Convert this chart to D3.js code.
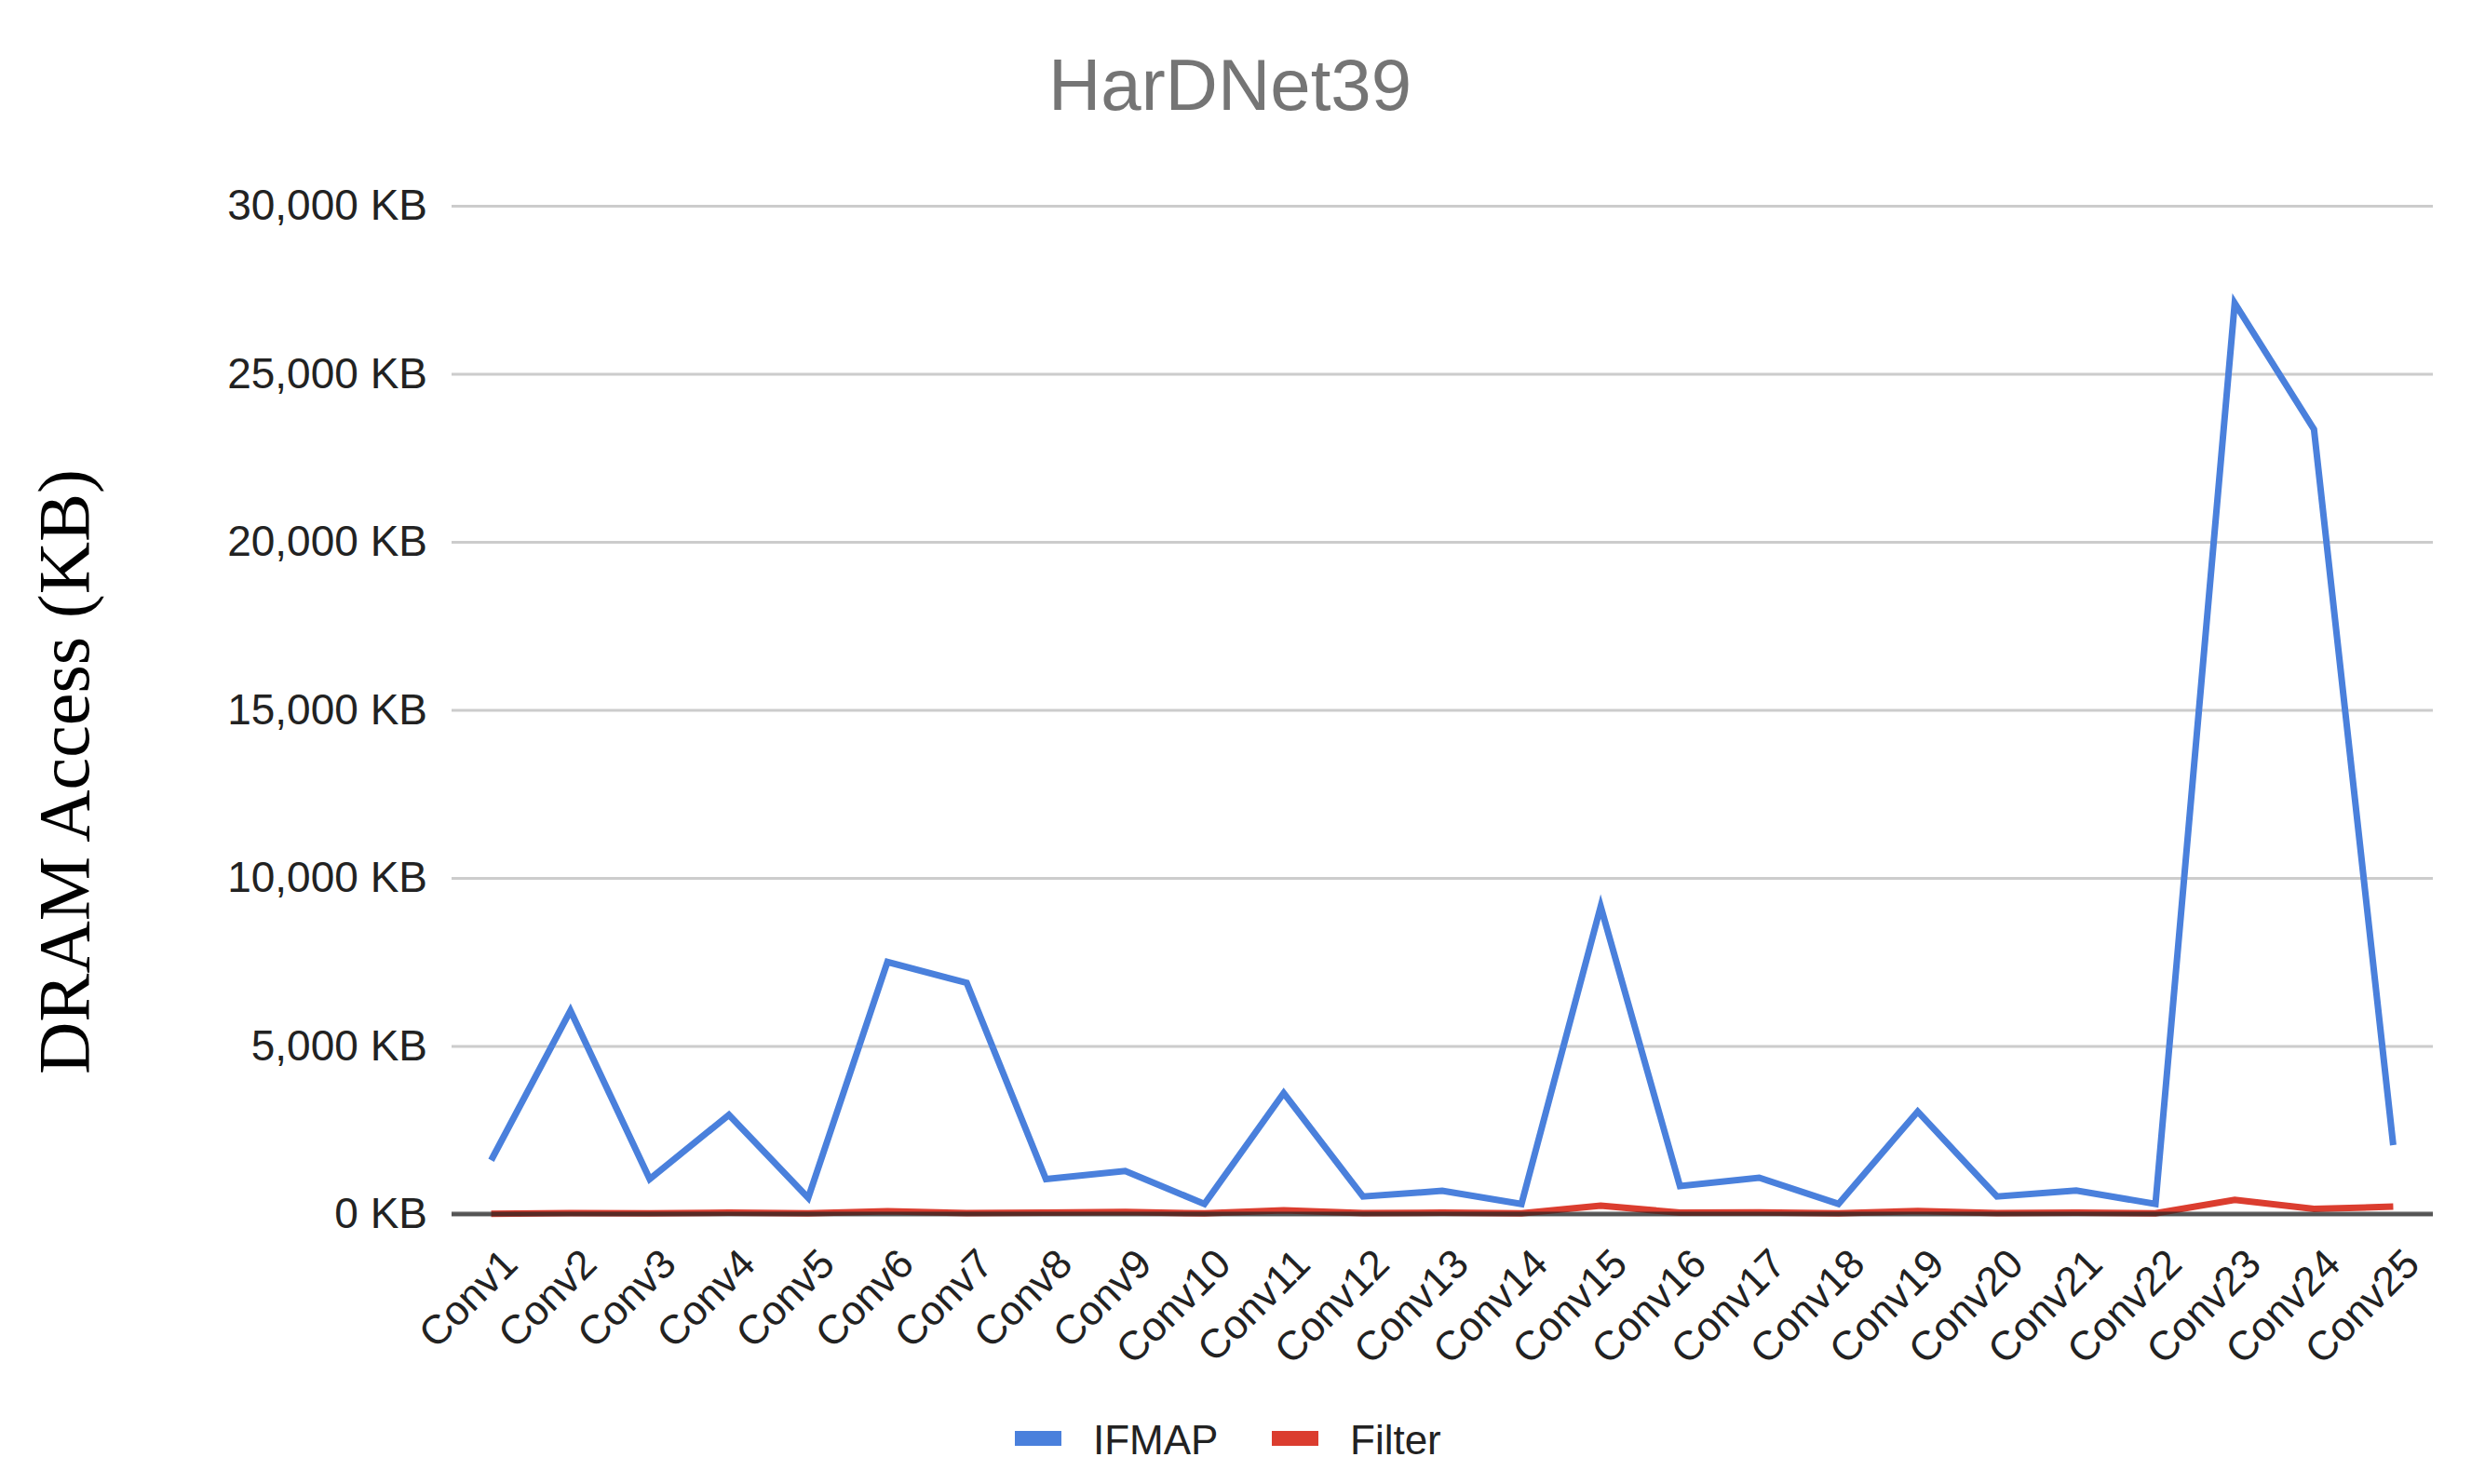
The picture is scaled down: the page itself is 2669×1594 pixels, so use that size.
<!DOCTYPE html>
<html>
<head>
<meta charset="utf-8">
<script src="https://cdn.jsdelivr.net/npm/d3@7"></script>
<style>
  body { margin: 0; background: #fff; }
  svg { display: block; font-family: "Liberation Sans", Arial, sans-serif; }
</style>
</head>
<body>
<svg width="2669" height="1594"></svg>
<script>
let layers = ["Conv1", "Conv2", "Conv3", "Conv4", "Conv5", "Conv6", "Conv7", "Conv8", "Conv9", "Conv10",
              "Conv11", "Conv12", "Conv13", "Conv14", "Conv15", "Conv16", "Conv17", "Conv18", "Conv19", "Conv20",
              "Conv21", "Conv22", "Conv23", "Conv24", "Conv25"],
    ifmap = [1600, 6050, 1040, 2950, 480, 7500, 6880, 1040, 1280, 300,
             3600, 520, 690, 300, 9150, 830, 1080, 300, 3050, 520,
             700, 300, 27100, 23350, 2050],
    filter = [10, 30, 20, 40, 20, 80, 30, 40, 60, 20,
              110, 30, 40, 20, 250, 40, 50, 20, 90, 30,
              40, 20, 420, 150, 220],
    y_ticks = [0, 5000, 10000, 15000, 20000, 25000, 30000],
    series_names = ["IFMAP", "Filter"],
    colors = ["#4a80dc", "#db3d2f"];

let plot_left = 485, plot_right = 2613, plot_top = 221, plot_bottom = 1304;

let svg = d3.select("svg");

let x = d3.scalePoint().domain(layers).range([plot_left, plot_right]).padding(0.5);
let y = d3.scaleLinear().domain([0, 30000]).range([plot_bottom, plot_top]);

// title
svg.append("text")
    .attr("x", 1321).attr("y", 118)
    .attr("text-anchor", "middle")
    .attr("font-size", 78)
    .attr("fill", "#757575")
    .text("HarDNet39");

// y grid + labels
let yAxis = svg.append("g")
    .attr("transform", `translate(${plot_left},0)`)
    .call(d3.axisLeft(y).tickValues(y_ticks)
        .tickSize(-(plot_right - plot_left)).tickPadding(26)
        .tickFormat(d => d3.format(",")(d) + " KB"));
yAxis.select(".domain").remove();
yAxis.selectAll("line").attr("stroke", "#cccccc").attr("stroke-width", 3);
yAxis.selectAll("text").attr("font-size", 46).attr("fill", "#222")
    .attr("font-family", "Liberation Sans, Arial, sans-serif");

// y axis title
svg.append("text")
    .attr("transform", "translate(77,829) rotate(-90)")
    .attr("text-anchor", "middle")
    .attr("dominant-baseline", "middle")
    .attr("font-family", "Liberation Serif, Times New Roman, serif")
    .attr("font-size", 78)
    .attr("fill", "#000")
    .text("DRAM Access (KB)");

// x labels
let xAxis = svg.append("g")
    .attr("transform", `translate(0,${plot_bottom})`)
    .call(d3.axisBottom(x).tickSize(0).tickPadding(0));
xAxis.select(".domain").remove();
xAxis.selectAll("text")
    .attr("font-size", 44)
    .attr("fill", "#222")
    .attr("font-family", "Liberation Sans, Arial, sans-serif")
    .attr("text-anchor", "end")
    .attr("dy", null)
    .attr("y", 0)
    .attr("dominant-baseline", "middle")
    .attr("transform", "translate(22,48) rotate(-45)");

// lines
let line = d3.line().x((d, i) => x(layers[i])).y(d => y(d));
let all = [ifmap, filter];

svg.selectAll("path.series")
    .data(all)
    .join("path")
    .attr("class", "series")
    .attr("fill", "none")
    .attr("stroke", (d, i) => colors[i])
    .attr("stroke-width", 7)
    .attr("stroke-linejoin", "miter")
    .attr("d", line);

// baseline
svg.append("line")
    .attr("x1", plot_left).attr("x2", plot_right)
    .attr("y1", y(0)).attr("y2", y(0))
    .attr("stroke", "#222").attr("stroke-width", 5)
    .attr("opacity", 0.7);

// legend
let legend = svg.append("g");
let lx = [1090, 1366];
series_names.forEach((name, i) => {
    legend.append("rect")
        .attr("x", lx[i]).attr("y", 1537)
        .attr("width", 50).attr("height", 16)
        .attr("fill", colors[i]);
    legend.append("text")
        .attr("x", lx[i] + 84).attr("y", 1562)
        .attr("font-size", 44)
        .attr("fill", "#222")
        .text(name);
});
</script>
</body>
</html>
